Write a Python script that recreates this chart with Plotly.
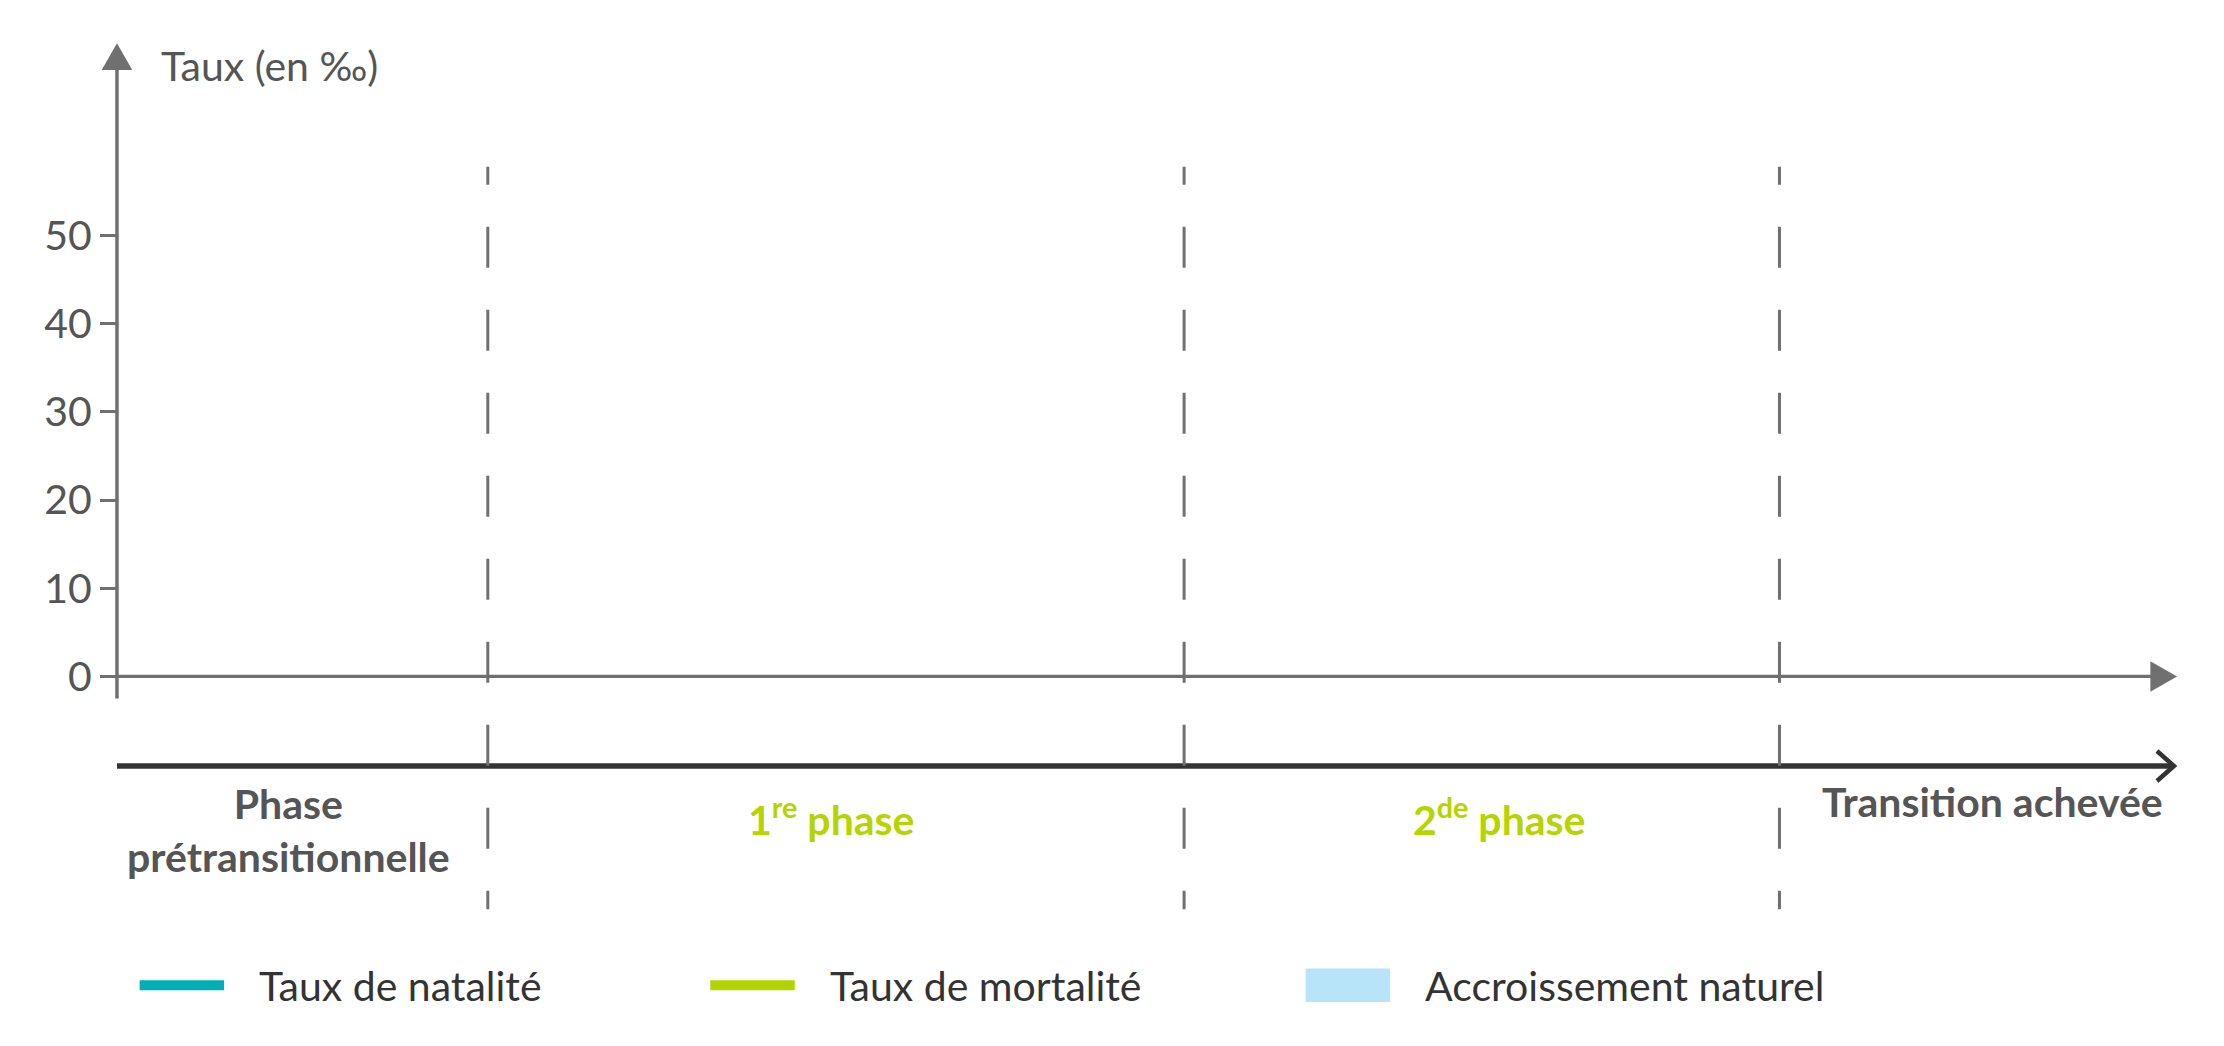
import plotly.graph_objects as go

# ==========================================
# 1. Données
# ==========================================
# axe vertical : taux en pour mille
y_ticks = [0, 10, 20, 30, 40, 50]
y_title = 'Taux (en ‰)'

# frise du temps (unités arbitraires, 0 -> 100)
time_end = 100
phase_bounds = [18, 51.8, 80.7]
phase_labels = ['Phase<br>prétransitionnelle', '1<sup>re</sup> phase',
                '2<sup>de</sup> phase', 'Transition achevée']

# séries du schéma (vierges : à compléter)
series_names = ['Taux de natalité', 'Taux de mortalité', 'Accroissement naturel']
natalite = []
mortalite = []
accroissement = []

# ==========================================
# 2. Styles / mise en page
# ==========================================
FONT = 'Lato'
GREY = '#707070'
DARK = '#333333'
LABEL = '#555555'
GREEN = '#b5d400'
series_colors = ['#00afb4', '#b3d300', '#b8e4fa']
phase_colors = [LABEL, GREEN, GREEN, LABEL]

# la page html ajoute une marge de 8 px : la figure fait 2208 x 1030
W, H = 2208, 1030
X_RANGE = [-5.29, 101.89]
Y_RANGE = [-40.99, 75.79]
PX_X = W / (X_RANGE[1] - X_RANGE[0])   # px par unité de temps
PX_Y = H / (Y_RANGE[1] - Y_RANGE[0])   # px par point de ‰

Y_AXIS_TOP = 71.8
Y_AXIS_BOTTOM = -2.5
Y_FRISE = -10.15
Y_DASH_TOP = 57.8
Y_DASH_BOTTOM = -26.4
Y_LEGEND = -35.0

fig = go.Figure()

for name, color, vals in zip(series_names, series_colors, [natalite, mortalite, accroissement]):
    fig.add_trace(go.Scatter(x=list(range(len(vals))), y=vals, mode='lines', name=name,
                             line=dict(color=color, width=4), showlegend=False))

# ---- axes dessinés avec leurs flèches ----
head_len, head_half = 26.7, 15.3  # px
# axe des taux
fig.add_shape(type='line', xref='x', yref='y', x0=0, x1=0,
              y0=Y_AXIS_BOTTOM, y1=Y_AXIS_TOP - head_len / PX_Y + 0.5,
              line=dict(color=GREY, width=3.5))
yb = Y_AXIS_TOP - head_len / PX_Y
hw = head_half / PX_X
fig.add_shape(type='path', xref='x', yref='y',
              path=f'M {-hw} {yb} L 0 {Y_AXIS_TOP} L {hw} {yb} Z',
              fillcolor=GREY, line=dict(width=0))
# axe zéro
xb = time_end - head_len / PX_X
hh = head_half / PX_Y
fig.add_shape(type='line', xref='x', yref='y', x0=0, x1=xb + 0.3, y0=0, y1=0,
              line=dict(color=GREY, width=3.3))
fig.add_shape(type='path', xref='x', yref='y',
              path=f'M {xb} {-hh} L {time_end} 0 L {xb} {hh} Z',
              fillcolor=GREY, line=dict(width=0))
# frise du temps (chevron ouvert)
fig.add_shape(type='line', xref='x', yref='y', x0=0, x1=time_end - 0.2,
              y0=Y_FRISE, y1=Y_FRISE, line=dict(color=DARK, width=5.5))
cx = time_end - 0.15
ch_len, ch_half = 17 / PX_X, 15 / PX_Y
fig.add_shape(type='path', xref='x', yref='y',
              path=f'M {cx - ch_len} {Y_FRISE + ch_half} L {cx} {Y_FRISE} L {cx - ch_len} {Y_FRISE - ch_half}',
              line=dict(color=DARK, width=4.5))

# limites des phases (tirets, premier tiret raccourci)
dash = '18px,42px' + ',41px,42px' * 10
for b in phase_bounds:
    fig.add_shape(type='line', xref='x', yref='y', x0=b, x1=b,
                  y0=Y_DASH_TOP, y1=Y_DASH_BOTTOM,
                  line=dict(color=GREY, width=3, dash=dash))

# noms des phases, centrés entre les limites
edges = [0] + phase_bounds + [time_end]
label_y = [-17.35, -15.9, -15.9, -14.2]
label_xshift = [-14, -4, 18, 14]
for i, (lab, col) in enumerate(zip(phase_labels, phase_colors)):
    xc = (edges[i] + edges[i + 1]) / 2
    fig.add_annotation(x=xc, y=label_y[i], xref='x', yref='y', text='<b>' + lab + '</b>',
                       showarrow=False, xanchor='center', yanchor='middle', align='center',
                       xshift=label_xshift[i],
                       font=dict(family=FONT, size=41, color=col))

# titre de l'axe
fig.add_annotation(x=2.04, y=69.3, xref='x', yref='y', text=y_title, showarrow=False,
                   xanchor='left', yanchor='middle',
                   font=dict(family=FONT, size=41, color=LABEL))

# légende dessinée
legend_key_x = [1.1, 28.8, 57.7]
key_len = 4.1
for i, (name, color) in enumerate(zip(series_names, series_colors)):
    x0 = legend_key_x[i]
    if i < 2:
        fig.add_shape(type='line', xref='x', yref='y', x0=x0, x1=x0 + key_len,
                      y0=Y_LEGEND, y1=Y_LEGEND, line=dict(color=color, width=10))
    else:
        fig.add_shape(type='rect', xref='x', yref='y', x0=x0, x1=x0 + key_len,
                      y0=Y_LEGEND + 1.9, y1=Y_LEGEND - 1.9,
                      line=dict(width=0), fillcolor=color)
    fig.add_annotation(x=x0 + key_len + 1.6, y=Y_LEGEND, xref='x', yref='y', text=name,
                       showarrow=False, xanchor='left', yanchor='middle',
                       font=dict(family=FONT, size=41, color=DARK))

fig.update_layout(
    width=W, height=H,
    margin=dict(l=0, r=0, t=0, b=0),
    paper_bgcolor='white', plot_bgcolor='white',
    showlegend=False,
    xaxis=dict(range=X_RANGE, visible=False, fixedrange=True),
    yaxis=dict(range=Y_RANGE, anchor='free', position=109 / W,
               tickvals=y_ticks, ticks='outside', ticklen=17, tickwidth=3,
               tickcolor=GREY, showline=False, showgrid=False, zeroline=False,
               tickfont=dict(family=FONT, size=41, color=LABEL), fixedrange=True),
)

fig.write_html('out.html')
